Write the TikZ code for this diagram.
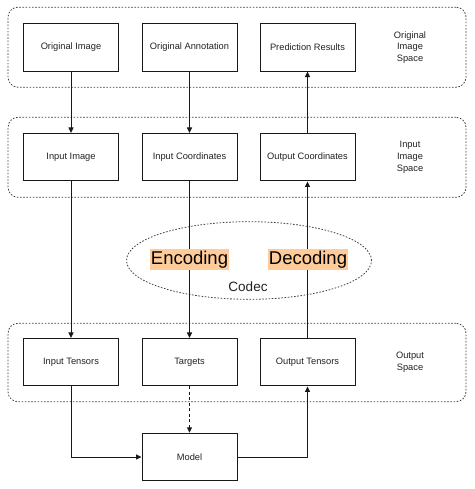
\documentclass[tikz,border=0pt]{standalone}
\usepackage{fontspec}
\setmainfont{Liberation Sans}
\usetikzlibrary{arrows.meta,shapes.geometric}
\definecolor{hl}{HTML}{FFCC99}
\definecolor{txt}{HTML}{222222}
\tikzset{
  box/.style={draw=black!90,line width=1pt,minimum width=95pt,minimum height=47.5pt,inner sep=0pt,text=txt,font=\fontsize{9.3}{11.5}\selectfont},
  space/.style={draw=black!75,line width=0.8pt,dash pattern=on 1.6pt off 1.6pt,rounded corners=10pt,minimum width=458pt,inner sep=0pt},
  sidelabel/.style={align=center,text=txt,font=\fontsize{9.3}{11.6}\selectfont},
  conn/.style={draw=black!90,line width=1pt,-{Triangle[length=5.5pt,width=5pt]}},
  hllabel/.style={fill=hl,inner xsep=1pt,inner ysep=0pt,minimum height=21pt,text=black,font=\fontsize{18.5}{20}\selectfont},
}
\begin{document}
\begin{tikzpicture}[x=1pt,y=-1pt]
\useasboundingbox (0,0) rectangle (474,489);
% spaces
\node[space,minimum height=80pt] (s1) at (237,47.2) {};
\node[space,minimum height=80pt] (s2) at (237,157.3) {};
\node[space,minimum height=78.4pt] (s3) at (237,362.5) {};
\node[sidelabel] (l1) at (410,47.3) {Original\\Image\\Space};
\node[sidelabel] (l2) at (410,157.3) {Input\\Image\\Space};
\node[sidelabel] (l3) at (410,362) {Output\\Space};
% codec ellipse
\node[ellipse,draw=black!75,line width=0.8pt,dash pattern=on 1.6pt off 1.6pt,minimum width=245pt,minimum height=77.6pt,inner sep=0pt] (codec) at (249,260.5) {};
\node[text=txt,font=\fontsize{13.5}{15}\selectfont] (codeclabel) at (248,287) {Codec};
% boxes
\node[box] (oimg) at (71,47.3) {Original Image};
\node[box] (oann) at (189.5,47.3) {Original Annotation};
\node[box] (pred) at (307.5,47.3) {Prediction Results};
\node[box] (iimg) at (71,157.2) {Input Image};
\node[box] (icoord) at (189.5,157.2) {Input Coordinates};
\node[box] (ocoord) at (307.5,157.2) {Output Coordinates};
\node[box] (itens) at (71,362.2) {Input Tensors};
\node[box] (targ) at (189.5,362.2) {Targets};
\node[box] (otens) at (307.5,362.2) {Output Tensors};
\node[box] (model) at (189.5,457) {Model};
% connectors
\draw[conn] (oimg) -- (iimg);
\draw[conn] (oann) -- (icoord);
\draw[conn] (iimg) -- (itens);
\draw[conn] (icoord) -- (targ);
\draw[conn] (itens.south) |- (model.west);
\draw[conn,dash pattern=on 3pt off 2.5pt] (targ) -- (model);
\draw[conn] (model.east) -| (otens.south);
\draw[conn] (otens) -- (ocoord);
\draw[conn] (ocoord) -- (pred);
% highlighted labels
\node[hllabel] (enc) at (189.5,259.5) {Encoding};
\node[hllabel] (dec) at (308,259.5) {Decoding};
\end{tikzpicture}
\end{document}
